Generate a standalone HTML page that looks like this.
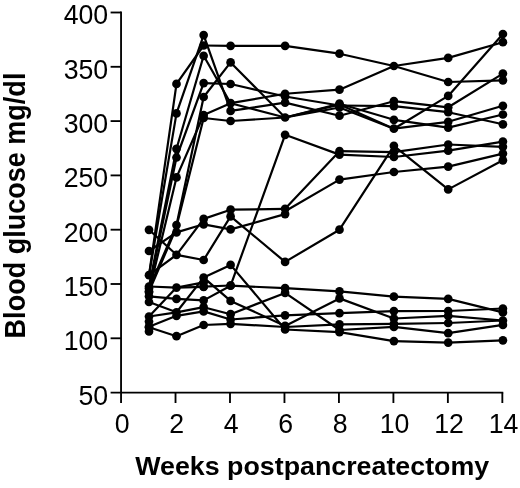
<!DOCTYPE html>
<html lang="en"><head><meta charset="utf-8"><title>Blood glucose after pancreatectomy</title>
<style>html,body{margin:0;padding:0;background:#fff}svg{display:block}text{font-family:"Liberation Sans",Arial,Helvetica,sans-serif;fill:#000}</style></head><body>
<svg width="520" height="488" viewBox="0 0 520 488">
<rect width="520" height="488" fill="#fff"/>
<g stroke="#000" stroke-width="1.85" fill="none" stroke-linecap="butt">
<path d="M121.05 11.575 V403"/>
<path d="M110.6 392.6 H503.26"/>
<path d="M110.6 338.30 H121.05"/>
<path d="M110.6 284.00 H121.05"/>
<path d="M110.6 229.70 H121.05"/>
<path d="M110.6 175.40 H121.05"/>
<path d="M110.6 121.10 H121.05"/>
<path d="M110.6 66.80 H121.05"/>
<path d="M110.6 12.50 H121.05"/>
<path d="M175.52 392.6 V403"/>
<path d="M229.99 392.6 V403"/>
<path d="M284.46 392.6 V403"/>
<path d="M338.93 392.6 V403"/>
<path d="M393.40 392.6 V403"/>
<path d="M447.87 392.6 V403"/>
<path d="M502.34 392.6 V403"/>
</g>
<g font-size="26.7">
<text transform="translate(108.2 404.50) scale(1 1.05)" text-anchor="end">50</text>
<text transform="translate(108.2 350.20) scale(1 1.05)" text-anchor="end">100</text>
<text transform="translate(108.2 295.90) scale(1 1.05)" text-anchor="end">150</text>
<text transform="translate(108.2 241.60) scale(1 1.05)" text-anchor="end">200</text>
<text transform="translate(108.2 187.30) scale(1 1.05)" text-anchor="end">250</text>
<text transform="translate(108.2 133.00) scale(1 1.05)" text-anchor="end">300</text>
<text transform="translate(108.2 78.70) scale(1 1.05)" text-anchor="end">350</text>
<text transform="translate(108.2 24.40) scale(1 1.05)" text-anchor="end">400</text>
<text transform="translate(122.25 433.4) scale(1 1.05)" text-anchor="middle">0</text>
<text transform="translate(176.72 433.4) scale(1 1.05)" text-anchor="middle">2</text>
<text transform="translate(231.19 433.4) scale(1 1.05)" text-anchor="middle">4</text>
<text transform="translate(285.66 433.4) scale(1 1.05)" text-anchor="middle">6</text>
<text transform="translate(340.13 433.4) scale(1 1.05)" text-anchor="middle">8</text>
<text transform="translate(394.60 433.4) scale(1 1.05)" text-anchor="middle">10</text>
<text transform="translate(449.07 433.4) scale(1 1.05)" text-anchor="middle">12</text>
<text transform="translate(503.54 433.4) scale(1 1.05)" text-anchor="middle">14</text>
</g>
<text x="135.2" y="475.4" font-size="26.7" font-weight="bold" textLength="354" lengthAdjust="spacingAndGlyphs">Weeks postpancreatectomy</text>
<text transform="translate(24.9 338.4) rotate(-90)" font-size="28.6" font-weight="bold" textLength="265.8" lengthAdjust="spacingAndGlyphs">Blood glucose mg/dl</text>
<g stroke="#000" stroke-width="2.2" stroke-linecap="round">
<line x1="149.00" y1="275.20" x2="176.50" y2="83.90"/>
<line x1="149.00" y1="275.20" x2="176.50" y2="113.40"/>
<line x1="149.00" y1="286.50" x2="176.50" y2="148.80"/>
<line x1="149.00" y1="288.50" x2="176.50" y2="157.50"/>
<line x1="149.00" y1="292.00" x2="176.50" y2="177.40"/>
<line x1="149.00" y1="251.00" x2="176.50" y2="232.40"/>
<line x1="149.00" y1="288.50" x2="176.50" y2="225.10"/>
<line x1="149.00" y1="275.20" x2="176.50" y2="254.80"/>
<line x1="149.00" y1="229.80" x2="176.50" y2="254.80"/>
<line x1="149.00" y1="286.50" x2="176.50" y2="287.60"/>
<line x1="149.00" y1="296.30" x2="176.50" y2="298.90"/>
<line x1="149.00" y1="316.50" x2="176.50" y2="287.60"/>
<line x1="149.00" y1="302.00" x2="176.50" y2="312.30"/>
<line x1="149.00" y1="316.50" x2="176.50" y2="312.30"/>
<line x1="149.00" y1="326.80" x2="176.50" y2="315.80"/>
<line x1="149.00" y1="327.30" x2="176.50" y2="336.20"/>
<line x1="176.50" y1="83.90" x2="203.65" y2="45.50"/>
<line x1="176.50" y1="113.40" x2="203.65" y2="35.10"/>
<line x1="176.50" y1="148.80" x2="203.65" y2="55.80"/>
<line x1="176.50" y1="157.50" x2="203.65" y2="83.10"/>
<line x1="176.50" y1="177.40" x2="203.65" y2="115.00"/>
<line x1="176.50" y1="225.10" x2="203.65" y2="97.00"/>
<line x1="176.50" y1="232.40" x2="203.65" y2="224.30"/>
<line x1="176.50" y1="254.80" x2="203.65" y2="218.90"/>
<line x1="176.50" y1="254.80" x2="203.65" y2="260.00"/>
<line x1="176.50" y1="287.60" x2="203.65" y2="282.30"/>
<line x1="176.50" y1="287.60" x2="203.65" y2="286.80"/>
<line x1="176.50" y1="298.90" x2="203.65" y2="300.40"/>
<line x1="176.50" y1="312.30" x2="203.65" y2="277.60"/>
<line x1="176.50" y1="312.30" x2="203.65" y2="307.20"/>
<line x1="176.50" y1="315.80" x2="203.65" y2="311.40"/>
<line x1="176.50" y1="336.20" x2="203.65" y2="325.00"/>
<line x1="203.65" y1="45.50" x2="230.60" y2="45.80"/>
<line x1="203.65" y1="35.10" x2="230.60" y2="110.90"/>
<line x1="203.65" y1="55.80" x2="230.60" y2="103.20"/>
<line x1="203.65" y1="83.10" x2="230.60" y2="84.00"/>
<line x1="203.65" y1="97.00" x2="230.60" y2="62.40"/>
<line x1="203.65" y1="115.00" x2="230.60" y2="103.20"/>
<line x1="203.65" y1="118.00" x2="230.60" y2="121.00"/>
<line x1="203.65" y1="218.90" x2="230.60" y2="209.70"/>
<line x1="203.65" y1="224.30" x2="230.60" y2="229.40"/>
<line x1="203.65" y1="260.00" x2="230.60" y2="216.40"/>
<line x1="203.65" y1="277.60" x2="230.60" y2="264.90"/>
<line x1="203.65" y1="286.60" x2="230.60" y2="285.50"/>
<line x1="203.65" y1="277.60" x2="230.60" y2="300.90"/>
<line x1="203.65" y1="300.40" x2="230.60" y2="285.70"/>
<line x1="203.65" y1="307.20" x2="230.60" y2="314.20"/>
<line x1="203.65" y1="311.40" x2="230.60" y2="319.50"/>
<line x1="203.65" y1="325.00" x2="230.60" y2="323.80"/>
<line x1="230.60" y1="45.80" x2="285.10" y2="45.80"/>
<line x1="230.60" y1="62.40" x2="285.10" y2="117.50"/>
<line x1="230.60" y1="84.00" x2="285.10" y2="96.50"/>
<line x1="230.60" y1="103.20" x2="285.10" y2="93.75"/>
<line x1="230.60" y1="103.20" x2="285.10" y2="117.50"/>
<line x1="230.60" y1="110.90" x2="285.10" y2="102.60"/>
<line x1="230.60" y1="121.00" x2="285.10" y2="117.50"/>
<line x1="230.60" y1="209.70" x2="285.10" y2="208.80"/>
<line x1="230.60" y1="229.40" x2="285.10" y2="214.10"/>
<line x1="230.60" y1="216.40" x2="285.10" y2="261.90"/>
<line x1="230.60" y1="285.70" x2="285.10" y2="134.80"/>
<line x1="230.60" y1="264.90" x2="285.10" y2="329.50"/>
<line x1="230.60" y1="285.70" x2="285.10" y2="288.20"/>
<line x1="230.60" y1="300.90" x2="285.10" y2="325.90"/>
<line x1="230.60" y1="314.20" x2="285.10" y2="292.90"/>
<line x1="230.60" y1="319.50" x2="285.10" y2="315.30"/>
<line x1="230.60" y1="323.80" x2="285.10" y2="327.00"/>
<line x1="285.10" y1="45.80" x2="339.50" y2="53.70"/>
<line x1="285.10" y1="93.75" x2="339.50" y2="89.70"/>
<line x1="285.10" y1="96.50" x2="339.50" y2="105.50"/>
<line x1="285.10" y1="102.60" x2="339.50" y2="115.70"/>
<line x1="285.10" y1="117.50" x2="339.50" y2="103.70"/>
<line x1="285.10" y1="117.50" x2="339.50" y2="104.60"/>
<line x1="285.10" y1="117.50" x2="339.50" y2="107.50"/>
<line x1="285.10" y1="134.80" x2="339.50" y2="154.60"/>
<line x1="285.10" y1="208.80" x2="339.50" y2="151.20"/>
<line x1="285.10" y1="261.90" x2="339.50" y2="229.70"/>
<line x1="285.10" y1="288.20" x2="339.50" y2="291.40"/>
<line x1="285.10" y1="292.90" x2="339.50" y2="330.00"/>
<line x1="285.10" y1="315.30" x2="339.50" y2="313.20"/>
<line x1="285.10" y1="325.90" x2="339.50" y2="298.40"/>
<line x1="285.10" y1="327.00" x2="339.50" y2="324.40"/>
<line x1="285.10" y1="329.50" x2="339.50" y2="332.20"/>
<line x1="339.50" y1="53.70" x2="393.90" y2="66.00"/>
<line x1="339.50" y1="89.70" x2="393.90" y2="66.00"/>
<line x1="339.50" y1="115.70" x2="393.90" y2="101.20"/>
<line x1="339.50" y1="105.50" x2="393.90" y2="106.20"/>
<line x1="339.50" y1="103.70" x2="393.90" y2="119.80"/>
<line x1="339.50" y1="104.60" x2="393.90" y2="128.70"/>
<line x1="339.50" y1="107.50" x2="393.90" y2="128.70"/>
<line x1="339.50" y1="151.20" x2="393.90" y2="152.20"/>
<line x1="339.50" y1="154.60" x2="393.90" y2="157.00"/>
<line x1="339.50" y1="179.60" x2="393.90" y2="172.00"/>
<line x1="339.50" y1="229.70" x2="393.90" y2="145.80"/>
<line x1="339.50" y1="291.40" x2="393.90" y2="296.70"/>
<line x1="339.50" y1="298.40" x2="393.90" y2="318.50"/>
<line x1="339.50" y1="313.20" x2="393.90" y2="311.10"/>
<line x1="339.50" y1="324.40" x2="393.90" y2="323.80"/>
<line x1="339.50" y1="330.00" x2="393.90" y2="326.90"/>
<line x1="339.50" y1="332.20" x2="393.90" y2="341.10"/>
<line x1="393.90" y1="66.00" x2="448.20" y2="57.90"/>
<line x1="393.90" y1="66.00" x2="448.20" y2="82.00"/>
<line x1="393.90" y1="101.20" x2="448.20" y2="107.30"/>
<line x1="393.90" y1="106.20" x2="448.20" y2="112.20"/>
<line x1="393.90" y1="119.80" x2="448.20" y2="127.60"/>
<line x1="393.90" y1="128.70" x2="448.20" y2="121.80"/>
<line x1="393.90" y1="128.70" x2="448.20" y2="95.90"/>
<line x1="393.90" y1="152.20" x2="448.20" y2="144.50"/>
<line x1="393.90" y1="157.00" x2="448.20" y2="150.70"/>
<line x1="393.90" y1="172.00" x2="448.20" y2="166.60"/>
<line x1="393.90" y1="145.80" x2="448.20" y2="189.40"/>
<line x1="393.90" y1="296.70" x2="448.20" y2="298.90"/>
<line x1="393.90" y1="311.10" x2="448.20" y2="311.00"/>
<line x1="393.90" y1="318.50" x2="448.20" y2="315.90"/>
<line x1="393.90" y1="323.80" x2="448.20" y2="323.00"/>
<line x1="393.90" y1="326.90" x2="448.20" y2="333.20"/>
<line x1="393.90" y1="341.10" x2="448.20" y2="342.60"/>
<line x1="448.20" y1="57.90" x2="502.90" y2="42.20"/>
<line x1="448.20" y1="82.00" x2="502.90" y2="80.30"/>
<line x1="448.20" y1="107.30" x2="502.90" y2="73.60"/>
<line x1="448.20" y1="112.20" x2="502.90" y2="124.30"/>
<line x1="448.20" y1="127.60" x2="502.90" y2="114.50"/>
<line x1="448.20" y1="121.80" x2="502.90" y2="105.80"/>
<line x1="448.20" y1="95.90" x2="502.90" y2="34.00"/>
<line x1="448.20" y1="144.50" x2="502.90" y2="146.80"/>
<line x1="448.20" y1="150.70" x2="502.90" y2="141.60"/>
<line x1="448.20" y1="166.60" x2="502.90" y2="153.60"/>
<line x1="448.20" y1="189.40" x2="502.90" y2="160.30"/>
<line x1="448.20" y1="298.90" x2="502.90" y2="312.40"/>
<line x1="448.20" y1="311.00" x2="502.90" y2="308.50"/>
<line x1="448.20" y1="315.90" x2="502.90" y2="320.50"/>
<line x1="448.20" y1="323.00" x2="502.90" y2="320.50"/>
<line x1="448.20" y1="333.20" x2="502.90" y2="324.90"/>
<line x1="448.20" y1="342.60" x2="502.90" y2="340.30"/>
<line x1="149.00" y1="291.50" x2="176.50" y2="227.50"/>
<line x1="176.50" y1="226.50" x2="203.65" y2="118.00"/>
<line x1="285.10" y1="211.30" x2="339.50" y2="179.60"/>
</g>
<g fill="#000">
<circle cx="149.00" cy="229.80" r="4.35"/>
<circle cx="149.00" cy="251.00" r="4.35"/>
<circle cx="149.00" cy="275.20" r="4.35"/>
<circle cx="149.00" cy="286.50" r="4.35"/>
<circle cx="149.00" cy="288.50" r="4.35"/>
<circle cx="149.00" cy="291.50" r="4.35"/>
<circle cx="149.00" cy="292.00" r="4.35"/>
<circle cx="149.00" cy="296.30" r="4.35"/>
<circle cx="149.00" cy="302.00" r="4.35"/>
<circle cx="149.00" cy="316.50" r="4.35"/>
<circle cx="149.00" cy="321.60" r="4.35"/>
<circle cx="149.00" cy="326.80" r="4.35"/>
<circle cx="149.00" cy="327.30" r="4.35"/>
<circle cx="149.00" cy="331.40" r="4.35"/>
<circle cx="176.50" cy="83.90" r="4.35"/>
<circle cx="176.50" cy="113.40" r="4.35"/>
<circle cx="176.50" cy="148.80" r="4.35"/>
<circle cx="176.50" cy="157.50" r="4.35"/>
<circle cx="176.50" cy="177.40" r="4.35"/>
<circle cx="176.50" cy="225.10" r="4.35"/>
<circle cx="176.50" cy="232.40" r="4.35"/>
<circle cx="176.50" cy="254.80" r="4.35"/>
<circle cx="176.50" cy="287.60" r="4.35"/>
<circle cx="176.50" cy="298.90" r="4.35"/>
<circle cx="176.50" cy="312.30" r="4.35"/>
<circle cx="176.50" cy="315.80" r="4.35"/>
<circle cx="176.50" cy="336.20" r="4.35"/>
<circle cx="203.65" cy="35.10" r="4.35"/>
<circle cx="203.65" cy="45.50" r="4.35"/>
<circle cx="203.65" cy="55.80" r="4.35"/>
<circle cx="203.65" cy="83.10" r="4.35"/>
<circle cx="203.65" cy="97.00" r="4.35"/>
<circle cx="203.65" cy="115.00" r="4.35"/>
<circle cx="203.65" cy="118.00" r="4.35"/>
<circle cx="203.65" cy="218.90" r="4.35"/>
<circle cx="203.65" cy="224.30" r="4.35"/>
<circle cx="203.65" cy="260.00" r="4.35"/>
<circle cx="203.65" cy="277.60" r="4.35"/>
<circle cx="203.65" cy="282.30" r="4.35"/>
<circle cx="203.65" cy="286.60" r="4.35"/>
<circle cx="203.65" cy="286.80" r="4.35"/>
<circle cx="203.65" cy="300.40" r="4.35"/>
<circle cx="203.65" cy="307.20" r="4.35"/>
<circle cx="203.65" cy="311.40" r="4.35"/>
<circle cx="203.65" cy="325.00" r="4.35"/>
<circle cx="230.60" cy="45.80" r="4.35"/>
<circle cx="230.60" cy="62.40" r="4.35"/>
<circle cx="230.60" cy="84.00" r="4.35"/>
<circle cx="230.60" cy="103.20" r="4.35"/>
<circle cx="230.60" cy="110.90" r="4.35"/>
<circle cx="230.60" cy="121.00" r="4.35"/>
<circle cx="230.60" cy="209.70" r="4.35"/>
<circle cx="230.60" cy="216.40" r="4.35"/>
<circle cx="230.60" cy="229.40" r="4.35"/>
<circle cx="230.60" cy="264.90" r="4.35"/>
<circle cx="230.60" cy="285.50" r="4.35"/>
<circle cx="230.60" cy="285.70" r="4.35"/>
<circle cx="230.60" cy="300.90" r="4.35"/>
<circle cx="230.60" cy="314.20" r="4.35"/>
<circle cx="230.60" cy="319.50" r="4.35"/>
<circle cx="230.60" cy="323.80" r="4.35"/>
<circle cx="285.10" cy="45.80" r="4.35"/>
<circle cx="285.10" cy="93.75" r="4.35"/>
<circle cx="285.10" cy="96.50" r="4.35"/>
<circle cx="285.10" cy="102.60" r="4.35"/>
<circle cx="285.10" cy="117.50" r="4.35"/>
<circle cx="285.10" cy="134.80" r="4.35"/>
<circle cx="285.10" cy="208.80" r="4.35"/>
<circle cx="285.10" cy="214.10" r="4.35"/>
<circle cx="285.10" cy="261.90" r="4.35"/>
<circle cx="285.10" cy="288.20" r="4.35"/>
<circle cx="285.10" cy="292.90" r="4.35"/>
<circle cx="285.10" cy="315.30" r="4.35"/>
<circle cx="285.10" cy="325.90" r="4.35"/>
<circle cx="285.10" cy="327.00" r="4.35"/>
<circle cx="285.10" cy="329.50" r="4.35"/>
<circle cx="339.50" cy="53.70" r="4.35"/>
<circle cx="339.50" cy="89.70" r="4.35"/>
<circle cx="339.50" cy="103.70" r="4.35"/>
<circle cx="339.50" cy="104.60" r="4.35"/>
<circle cx="339.50" cy="105.50" r="4.35"/>
<circle cx="339.50" cy="107.50" r="4.35"/>
<circle cx="339.50" cy="115.70" r="4.35"/>
<circle cx="339.50" cy="151.20" r="4.35"/>
<circle cx="339.50" cy="154.60" r="4.35"/>
<circle cx="339.50" cy="179.60" r="4.35"/>
<circle cx="339.50" cy="229.70" r="4.35"/>
<circle cx="339.50" cy="291.40" r="4.35"/>
<circle cx="339.50" cy="298.40" r="4.35"/>
<circle cx="339.50" cy="313.20" r="4.35"/>
<circle cx="339.50" cy="324.40" r="4.35"/>
<circle cx="339.50" cy="330.00" r="4.35"/>
<circle cx="339.50" cy="332.20" r="4.35"/>
<circle cx="393.90" cy="66.00" r="4.35"/>
<circle cx="393.90" cy="101.20" r="4.35"/>
<circle cx="393.90" cy="106.20" r="4.35"/>
<circle cx="393.90" cy="119.80" r="4.35"/>
<circle cx="393.90" cy="128.70" r="4.35"/>
<circle cx="393.90" cy="145.80" r="4.35"/>
<circle cx="393.90" cy="152.20" r="4.35"/>
<circle cx="393.90" cy="157.00" r="4.35"/>
<circle cx="393.90" cy="172.00" r="4.35"/>
<circle cx="393.90" cy="296.70" r="4.35"/>
<circle cx="393.90" cy="311.10" r="4.35"/>
<circle cx="393.90" cy="318.50" r="4.35"/>
<circle cx="393.90" cy="323.80" r="4.35"/>
<circle cx="393.90" cy="326.90" r="4.35"/>
<circle cx="393.90" cy="341.10" r="4.35"/>
<circle cx="448.20" cy="57.90" r="4.35"/>
<circle cx="448.20" cy="82.00" r="4.35"/>
<circle cx="448.20" cy="95.90" r="4.35"/>
<circle cx="448.20" cy="107.30" r="4.35"/>
<circle cx="448.20" cy="112.20" r="4.35"/>
<circle cx="448.20" cy="121.80" r="4.35"/>
<circle cx="448.20" cy="127.60" r="4.35"/>
<circle cx="448.20" cy="144.50" r="4.35"/>
<circle cx="448.20" cy="150.70" r="4.35"/>
<circle cx="448.20" cy="166.60" r="4.35"/>
<circle cx="448.20" cy="189.40" r="4.35"/>
<circle cx="448.20" cy="298.90" r="4.35"/>
<circle cx="448.20" cy="311.00" r="4.35"/>
<circle cx="448.20" cy="315.90" r="4.35"/>
<circle cx="448.20" cy="323.00" r="4.35"/>
<circle cx="448.20" cy="333.20" r="4.35"/>
<circle cx="448.20" cy="342.60" r="4.35"/>
<circle cx="502.90" cy="34.00" r="4.35"/>
<circle cx="502.90" cy="42.20" r="4.35"/>
<circle cx="502.90" cy="73.60" r="4.35"/>
<circle cx="502.90" cy="80.30" r="4.35"/>
<circle cx="502.90" cy="105.80" r="4.35"/>
<circle cx="502.90" cy="114.50" r="4.35"/>
<circle cx="502.90" cy="124.30" r="4.35"/>
<circle cx="502.90" cy="141.60" r="4.35"/>
<circle cx="502.90" cy="146.80" r="4.35"/>
<circle cx="502.90" cy="153.60" r="4.35"/>
<circle cx="502.90" cy="160.30" r="4.35"/>
<circle cx="502.90" cy="308.50" r="4.35"/>
<circle cx="502.90" cy="312.40" r="4.35"/>
<circle cx="502.90" cy="320.50" r="4.35"/>
<circle cx="502.90" cy="324.90" r="4.35"/>
<circle cx="502.90" cy="340.30" r="4.35"/>
</g>
</svg></body></html>
